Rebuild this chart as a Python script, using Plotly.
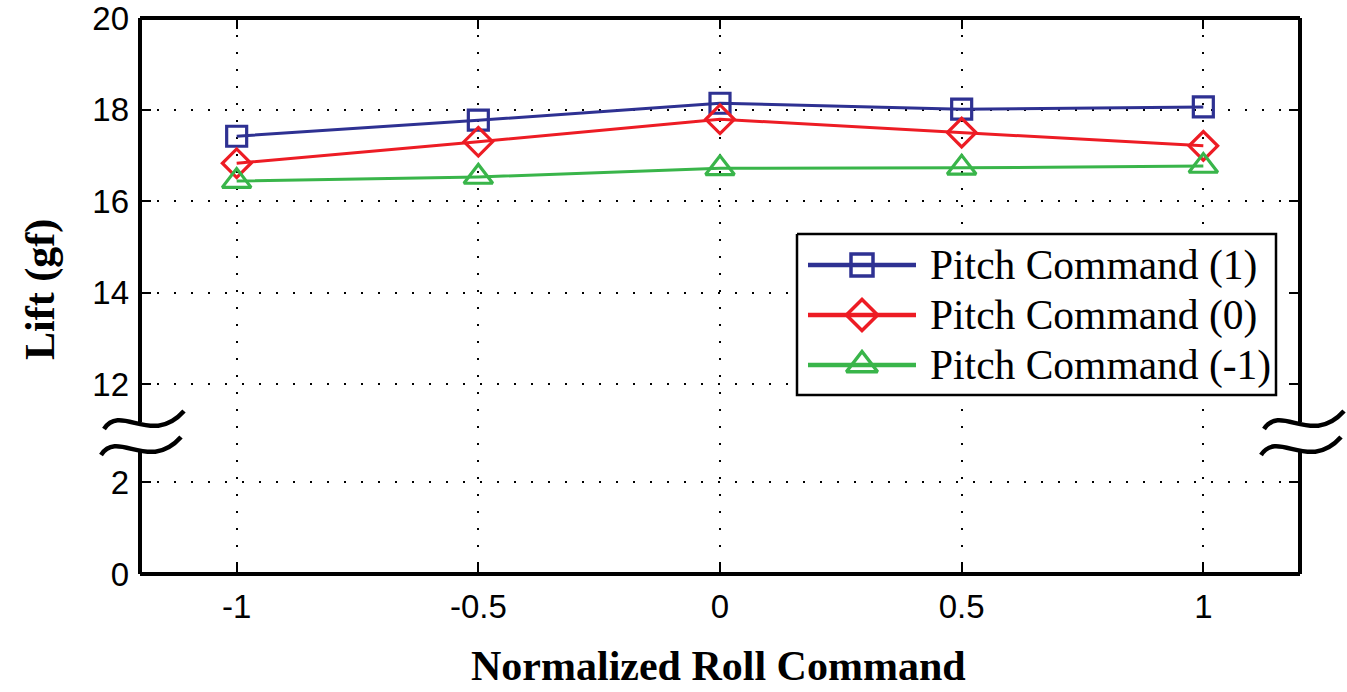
import plotly.graph_objects as go

# ---------------- data ----------------
roll = [-1, -0.5, 0, 0.5, 1]
lift_pitch_pos1 = [17.42, 17.77, 18.14, 18.01, 18.06]
lift_pitch_0 = [16.83, 17.30, 17.79, 17.50, 17.21]
lift_pitch_neg1 = [16.44, 16.53, 16.72, 16.73, 16.77]
series_names = ["Pitch Command (1)", "Pitch Command (0)", "Pitch Command (-1)"]

x_tickvals = [-1, -0.5, 0, 0.5, 1]
x_ticklabels = ["-1", "-0.5", "0", "0.5", "1"]
y_tickvals = [0, 2, 12, 14, 16, 18, 20]
y_ticklabels = ["0", "2", "12", "14", "16", "18", "20"]

x_title = "Normalized Roll Command"
y_title = "Lift (gf)"

# ---------------- styling ----------------
colors = ["#2E3192", "#ED1C24", "#39B54A"]
symbols = ["square-open", "diamond-open", "triangle-up-open"]
msizes = [20, 22, 25]

W, H = 1347, 692
ML, MR, MT, MB = 140, 47, 18, 118
PW, PH = W - ML - MR, H - MT - MB

# broken y axis: values above BREAK_HIGH are shifted down next to BREAK_LOW
BREAK_LOW, BREAK_HIGH, BREAK_GAP = 2, 12, 2.14


def yb(v):
    return v if v <= BREAK_LOW else v - BREAK_HIGH + BREAK_LOW + BREAK_GAP


def pxx(px):
    return (px - ML) / PW


def pxy(py):
    return (H - MB - py) / PH


fig = go.Figure()

all_series = [lift_pitch_pos1, lift_pitch_0, lift_pitch_neg1]
for vals, name, c, s, ms in zip(all_series, series_names, colors, symbols, msizes):
    fig.add_trace(go.Scatter(
        x=roll, y=[yb(v) for v in vals], name=name, mode="lines+markers",
        line=dict(color=c, width=3),
        marker=dict(symbol=s, size=ms, color=c, line=dict(color=c, width=3.2)),
        showlegend=False, cliponaxis=False,
    ))

# ---------------- custom legend (own small axes in pixel units) ----------------
LX0, LX1, LY0, LY1 = 797, 1276, 234, 395
PAD = 8
fig.add_trace(go.Scatter(
    x=[LX0, LX1, LX1, LX0, LX0], y=[LY0, LY0, LY1, LY1, LY0],
    mode="lines", fill="toself", fillcolor="white",
    line=dict(color="black", width=2.5), xaxis="x2", yaxis="y2",
    showlegend=False, hoverinfo="skip",
))
row_y = [265, 315, 365]
for ry, name, c, s, ms in zip(row_y, series_names, colors, symbols, msizes):
    fig.add_trace(go.Scatter(
        x=[808, 862, 916], y=[ry, ry, ry], mode="lines",
        line=dict(color=c, width=4.5), xaxis="x2", yaxis="y2",
        showlegend=False, hoverinfo="skip",
    ))
    fig.add_trace(go.Scatter(
        x=[862], y=[ry], mode="markers",
        marker=dict(symbol=s, size=ms + 2, color=c, line=dict(color=c, width=3.5)),
        xaxis="x2", yaxis="y2", showlegend=False, hoverinfo="skip", cliponaxis=False,
    ))
    fig.add_annotation(
        x=928, y=ry, xref="x2", yref="y2", text=name, showarrow=False,
        xanchor="left", yanchor="middle",
        font=dict(family="Liberation Serif, Times New Roman, serif", size=41.5, color="black"),
    )

# ---------------- axes ----------------
axis_common = dict(
    ticks="inside", ticklen=11, tickwidth=2, tickcolor="black",
    mirror="ticks", showline=False, zeroline=False,
    showgrid=True, gridcolor="black", griddash="2px,15px", gridwidth=2,
    tickfont=dict(family="Liberation Sans, Arial, sans-serif", size=33, color="black"),
    ticklabelstandoff=10, ticklabeloverflow="allow", automargin=False,
)
fig.update_layout(
    width=W, height=H,
    margin=dict(l=ML, r=MR, t=MT, b=MB, autoexpand=False),
    paper_bgcolor="white", plot_bgcolor="white",
    showlegend=False,
    xaxis=dict(range=[-1.2, 1.2], tickvals=x_tickvals, ticktext=x_ticklabels, **axis_common),
    yaxis=dict(range=[0, yb(20) + 0.002], tickvals=[yb(v) for v in y_tickvals],
               ticktext=y_ticklabels, **axis_common),
    xaxis2=dict(domain=[pxx(LX0 - PAD), pxx(LX1 + PAD)], range=[LX0 - PAD, LX1 + PAD],
                anchor="y2", visible=False, fixedrange=True),
    yaxis2=dict(domain=[pxy(LY1 + PAD), pxy(LY0 - PAD)], range=[LY1 + PAD, LY0 - PAD],
                anchor="x2", visible=False, fixedrange=True),
)

# axis titles
fig.add_annotation(
    x=pxx(718), y=pxy(666), xref="paper", yref="paper", text=x_title, showarrow=False,
    xanchor="center", yanchor="middle",
    font=dict(family="Liberation Serif, Times New Roman, serif", size=42, color="black", weight="bold"),
)
fig.add_annotation(
    x=pxx(40), y=pxy(290), xref="paper", yref="paper", text=y_title, showarrow=False,
    textangle=-90, xanchor="center", yanchor="middle",
    font=dict(family="Liberation Serif, Times New Roman, serif", size=42, color="black", weight="bold"),
)

# ---------------- frame with axis break ----------------
frame = dict(color="black", width=4)
BRK_TOP, BRK_BOT = 422, 452
segs = [
    (ML, MT, ML + PW, MT),                 # top
    (ML, H - MB, ML + PW, H - MB),         # bottom
    (ML, MT, ML, BRK_TOP),                 # left upper
    (ML, BRK_BOT, ML, H - MB),             # left lower
    (ML + PW, MT, ML + PW, BRK_TOP),       # right upper
    (ML + PW, BRK_BOT, ML + PW, H - MB),   # right lower
]
for x0, y0, x1, y1 in segs:
    fig.add_shape(type="line", xref="paper", yref="paper",
                  x0=pxx(x0), y0=pxy(y0), x1=pxx(x1), y1=pxy(y1), line=frame, layer="above")


def squiggle(dx, dy):
    pts = [(104 + dx, 429 + dy), (121 + dx, 403 + dy), (152 + dx, 447 + dy), (184 + dx, 411 + dy)]
    p = [(pxx(a), pxy(b)) for a, b in pts]
    return "M {:.5f},{:.5f} C {:.5f},{:.5f} {:.5f},{:.5f} {:.5f},{:.5f}".format(
        p[0][0], p[0][1], p[1][0], p[1][1], p[2][0], p[2][1], p[3][0], p[3][1])


for dx, dy in [(0, 0), (-3, 26), (PW, 0), (PW - 3, 26)]:
    fig.add_shape(type="path", xref="paper", yref="paper", path=squiggle(dx, dy),
                  line=dict(color="black", width=4.5), layer="above")

fig.write_html("out.html")
